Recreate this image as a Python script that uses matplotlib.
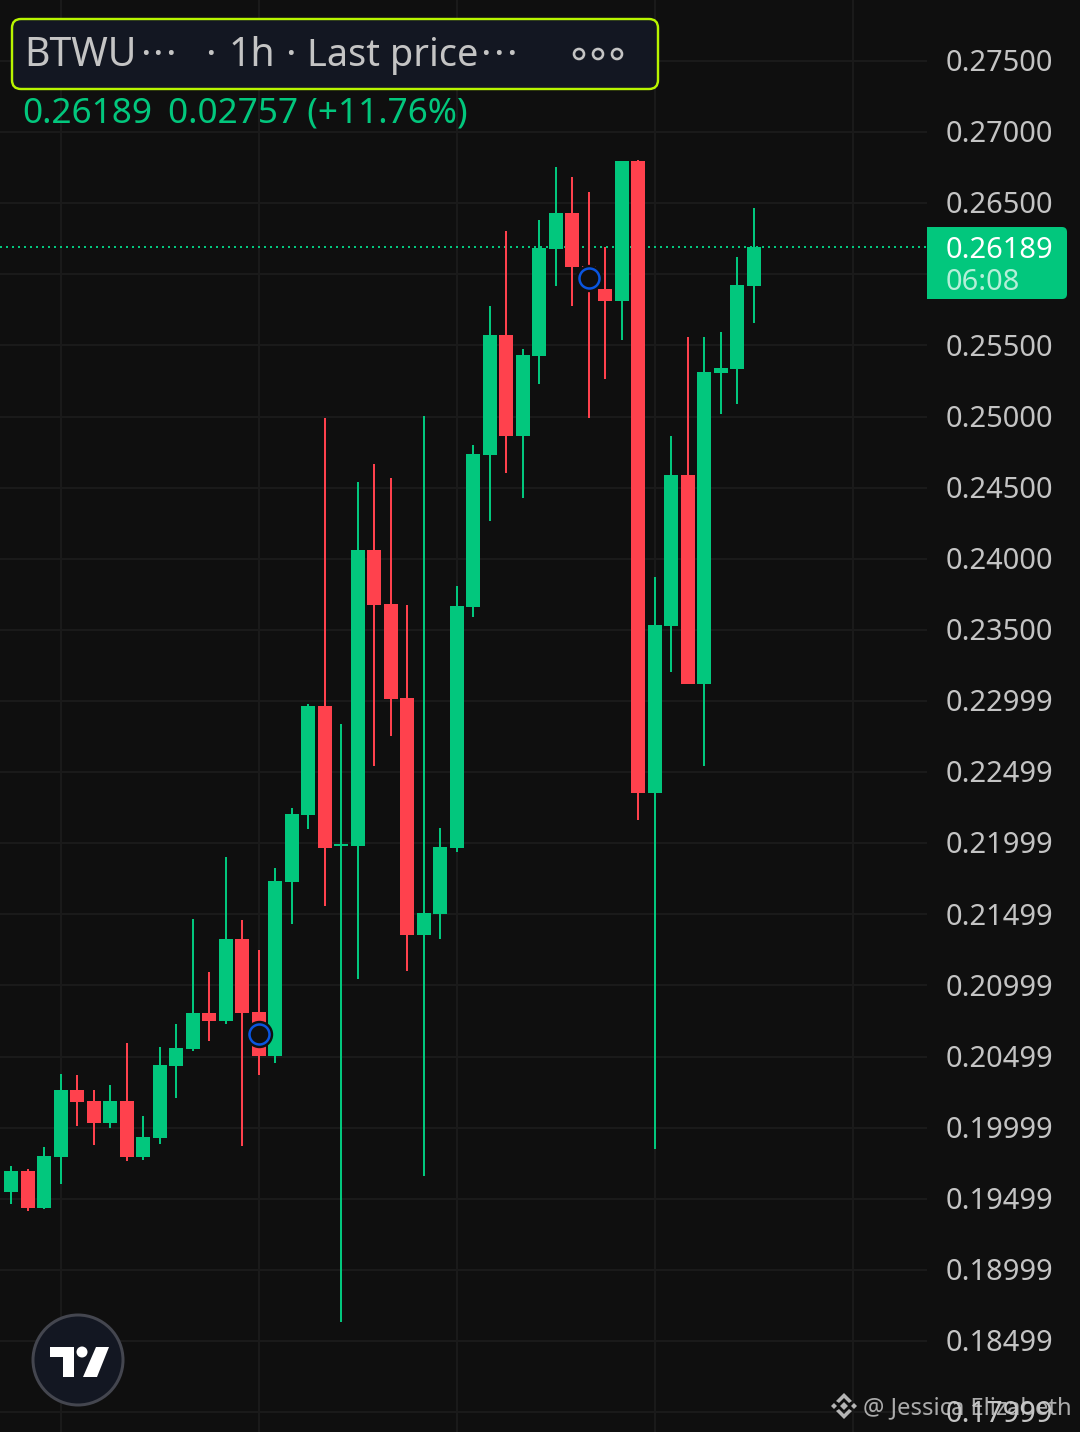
import matplotlib
matplotlib.use("Agg")
import matplotlib.pyplot as plt
from matplotlib.patches import FancyBboxPatch, Circle, Polygon, Rectangle
from matplotlib.transforms import ScaledTranslation

plt.rcParams['font.family'] = ['Noto Sans', 'DejaVu Sans']

opens = [.19547,.19694,.19434,.19793,.20264,.20187,.20032,.20187,.19793,.19927,
         .20433,.20552,.20806,.20749,.21326,.20813,.20503,.21727,.22198,.22964,
         .21980,.21980,.24061,.23682,.23021,.21354,.21502,.21966,.23661,.24729,
         .25573,.24863,.25426,.26178,.26431,.26058,.25897,.25812,.26797,.22353,
         .23527,.24589,.23119,.25306,.25334,.25918]
closes = [.19694,.19434,.19800,.20264,.20180,.20032,.20187,.19793,.19934,.20440,
          .20560,.20806,.20749,.21326,.20806,.20503,.21734,.22205,.22964,.21966,
          .21994,.24061,.23675,.23014,.21354,.21509,.21973,.23668,.24737,.25573,
          .24863,.25433,.26185,.26431,.26051,.25897,.25812,.26797,.22353,.23534,
          .24589,.23119,.25313,.25341,.25925,.26189]
highs = [.19730,.19709,.19863,.20377,.20370,.20264,.20299,.20595,.20081,.20567,
         .20728,.21467,.21094,.21903,.21460,.21249,.21825,.22247,.22978,.24990,
         .22838,.24540,.24666,.24568,.23675,.25004,.22107,.23808,.24800,.25777,
         .26305,.25475,.26382,.26755,.26684,.26579,.26192,.26797,.26804,.23872,
         .24863,.25559,.25559,.25594,.26122,.26466]
lows = [.19462,.19413,.19427,.19603,.20011,.19877,.19997,.19765,.19772,.19884,
        .20208,.20538,.20609,.20728,.19870,.20370,.20454,.21431,.22100,.21558,
        .18633,.21045,.22543,.22753,.21101,.19659,.21326,.21938,.23590,.24265,
        .24603,.24427,.25229,.25918,.25777,.24990,.25264,.25538,.22163,.19849,
        .23204,.23119,.22543,.25018,.25088,.25658]

price_ticks = [.275,.27,.265,.26,.255,.25,.245,.24,.235,.22999,.22499,.21999,.21499,
               .20999,.20499,.19999,.19499,.18999,.18499,.17999]
price_labels = ['0.27500','0.27000','0.26500','','0.25500','0.25000','0.24500','0.24000',
                '0.23500','0.22999','0.22499','0.21999','0.21499','0.20999','0.20499',
                '0.19999','0.19499','0.18999','0.18499','0.17999']
time_grid = [3, 15, 27, 39, 51]
last_price = 0.26189
signal_idx = [15, 35]
signal_price = [.20658, .25974]

GREEN = '#02C77D'
RED = '#FF414D'
BG = '#0F0F0F'
GRID = '#1A1A1A'
LABEL = '#C4C4C4'
PX = 0.72

fig = plt.figure(figsize=(10.8, 14.32), dpi=100, facecolor=BG)
ax = fig.add_axes([0, 0, 927/1080, 1], facecolor=BG)
step = 16.51
ax.set_xlim(-11/step, (927-11)/step)
ax.set_ylim(0.27929 - 1432*7.032e-5, 0.27929)
for s in ax.spines.values():
    s.set_visible(False)
ax.yaxis.tick_right()
ax.set_yticks(price_ticks, price_labels)
ax.set_xticks(time_grid, ['']*len(time_grid))
ax.tick_params(axis='both', length=0)
ax.tick_params(axis='y', pad=18.5*PX, labelsize=20.9, labelcolor=LABEL)
ax.grid(True, color=GRID, lw=2*PX, zorder=0)
ax.set_axisbelow(True)
for lab in ax.get_yticklabels():
    lab.set_transform(lab.get_transform() + ScaledTranslation(0, 0.8/100, fig.dpi_scale_trans))

ax.axhline(last_price, color=GREEN, lw=2*PX, ls=(0, (1, 2)), zorder=1)

xs = list(range(len(opens)))
colors = [GREEN if c >= o else RED for o, c in zip(opens, closes)]
ax.vlines(xs, lows, highs, colors=colors, lw=2*PX, zorder=2)
ax.bar(xs, [c-o for o, c in zip(opens, closes)], bottom=opens, width=14/step,
       color=colors, lw=0, zorder=3)

ax.plot(signal_idx, signal_price, ls='none', marker='o', ms=26*PX, mfc=BG, mec=BG, zorder=4)
ax.plot(signal_idx, signal_price, ls='none', marker='o', ms=20*PX, mfc=BG, mec='#0A55E0',
        mew=2.5*PX, zorder=5)

# overlay in pixel coordinates for the app chrome
ov = fig.add_axes([0, 0, 1, 1], facecolor='none')
ov.set_xlim(0, 1080)
ov.set_ylim(1432, 0)
ov.axis('off')

ov.add_patch(FancyBboxPatch((12, 19), 646, 70, boxstyle='round,pad=0,rounding_size=9',
                            fc='#131722', ec='#B8F500', lw=2.4*PX))
HFS = 28.3
HY = 56
ov.text(24, HY, 'BTWU', color=LABEL, fontsize=HFS, va='center', ha='left')
for cx in (145, 157.5, 170, 210, 290, 485, 498, 511):
    ov.text(cx, HY, '·', color=LABEL, fontsize=HFS, va='center', ha='center')
ov.text(229, HY, '1h', color=LABEL, fontsize=HFS, va='center', ha='left')
ov.text(307, HY, 'Last price', color=LABEL, fontsize=27.3, va='center', ha='left')
for cx in (579, 598, 617):
    ov.add_patch(Circle((cx, 54), 5.0, fc='none', ec=LABEL, lw=2.6*PX))

ov.text(22.5, 114, f'{last_price:.5f}', color=GREEN, fontsize=25.3, va='center', ha='left')
ov.text(168.5, 114, '0.02757 (+11.76%)', color=GREEN, fontsize=25.3, va='center', ha='left')

ov.add_patch(FancyBboxPatch((927, 227), 140, 72, boxstyle='round,pad=0,rounding_size=5',
                            fc=GREEN, ec='none'))
ov.add_patch(Rectangle((927, 227), 8, 72, fc=GREEN, ec='none'))
ov.text(946, 251, f'{last_price:.5f}', color='white', fontsize=20.9, va='center', ha='left')
ov.text(946, 282, '06:08', color='#B4EFD8', fontsize=20.9, va='center', ha='left')

# TradingView badge
ov.add_patch(Circle((78, 1360), 45, fc='#131722', ec='#44464F', lw=3*PX))
ov.add_patch(Polygon([(50, 1347), (74, 1347), (74, 1377), (63, 1377), (63, 1357), (50, 1357)],
                     fc='white', ec='none'))
ov.add_patch(Circle((82, 1352), 5.5, fc='white', ec='none'))
ov.add_patch(Polygon([(96, 1347), (109, 1347), (97, 1377), (83, 1377)], fc='white', ec='none'))

# Binance watermark
WM = '#C8C8C8'
wx, wy = 844, 1406
ov.add_patch(Polygon([(wx, wy-4), (wx+4, wy), (wx, wy+4), (wx-4, wy)], fc=WM, ec='none', alpha=.9))
ov.add_patch(Polygon([(wx-10, wy-3), (wx-7, wy), (wx-10, wy+3), (wx-13, wy)], fc=WM, ec='none', alpha=.9))
ov.add_patch(Polygon([(wx+10, wy-3), (wx+13, wy), (wx+10, wy+3), (wx+7, wy)], fc=WM, ec='none', alpha=.9))
ov.add_patch(Polygon([(wx, wy-13), (wx+8, wy-5), (wx+5, wy-3), (wx, wy-8), (wx-5, wy-3), (wx-8, wy-5)],
                     fc=WM, ec='none', alpha=.9))
ov.add_patch(Polygon([(wx, wy+13), (wx+8, wy+5), (wx+5, wy+3), (wx, wy+8), (wx-5, wy+3), (wx-8, wy+5)],
                     fc=WM, ec='none', alpha=.9))
ov.text(863, 1408, '@ Jessica Elizabeth', color=WM, alpha=.85, fontsize=17.1, va='center', ha='left')

fig.savefig('out.png', dpi=100, facecolor=BG)
